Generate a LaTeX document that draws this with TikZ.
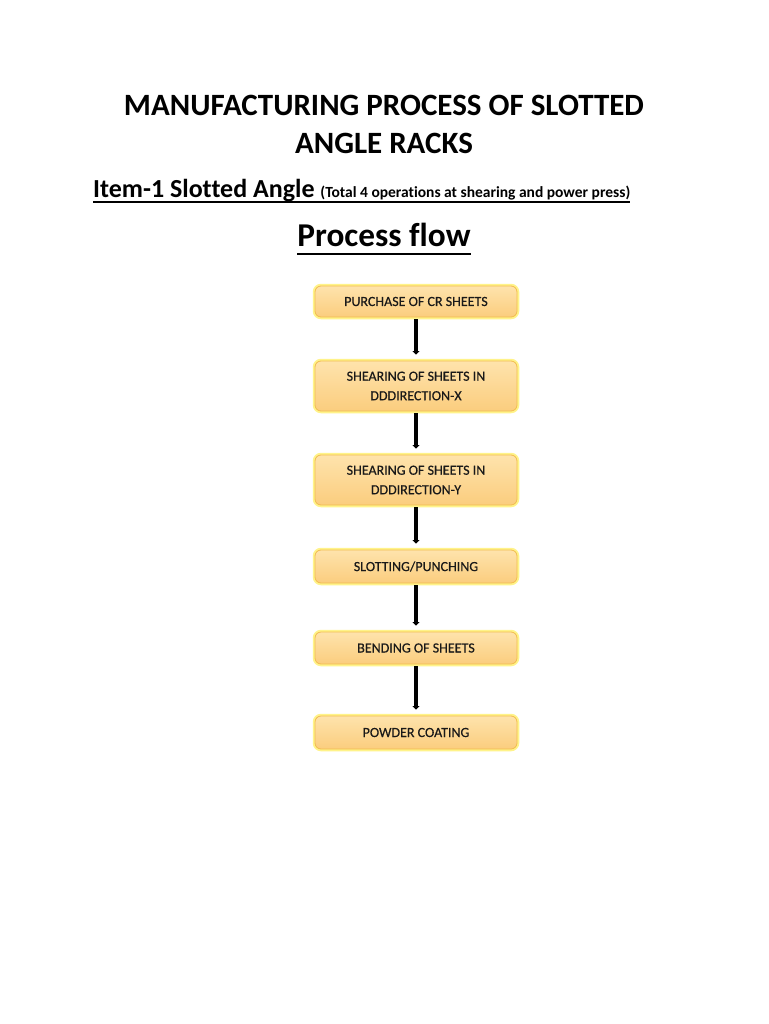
\documentclass[tikz,border=0pt]{standalone}
\usepackage{fontspec}
\setmainfont[Ligatures={NoCommon}]{Carlito}
\newfontfamily\boxfont[FakeBold=0.35]{Carlito}
\usetikzlibrary{arrows.meta}
\definecolor{boxtop}{HTML}{FEE3AC}
\definecolor{boxbot}{HTML}{FBCD7E}
\definecolor{boxline}{HTML}{F2BC4E}
\definecolor{glow}{HTML}{FFF38A}
\tikzset{
  stepbox/.style={rectangle, rounded corners=6pt, minimum width=202pt, top color=boxtop, bottom color=boxbot, draw=boxline, line width=0.8pt, align=center, font=\boxfont\fontsize{14}{19.5}\selectfont, text=black!90, inner sep=0pt,
    preaction={draw=glow, line width=4.5pt, rounded corners=6pt}},
  flowarrow/.style={line width=3.5pt, -{Triangle[length=3.5pt,width=7pt]}, shorten <=2pt, shorten >=6pt},
  ttl/.style={anchor=base, font=\bfseries\fontsize{31}{36}\selectfont, inner sep=0pt},
  uline/.style={line width=2pt},
}
\begin{document}
\begin{tikzpicture}[x=1pt,y=-1pt]
\useasboundingbox[fill=white] (0,0) rectangle (768,1024);
\node[ttl] (t1) at (384,116) {MANUFACTURING PROCESS OF SLOTTED};
\node[ttl] (t2) at (384,154) {ANGLE RACKS};
\node[anchor=base west, inner sep=0pt, font=\bfseries\fontsize{26}{30}\selectfont] (item) at (93,198) {Item-1 Slotted Angle {\fontsize{15.5}{18}\selectfont(Total 4 operations at shearing and power press)}};
\draw[uline] (item.base west) ++(0,4) coordinate (u1) -- (u1 -| item.base east);
\node[anchor=base, inner sep=0pt, font=\bfseries\fontsize{33.3}{38}\selectfont] (pf) at (384,247) {Process flow};
\draw[line width=2.5pt] (pf.base west) ++(0,7) coordinate (u2) -- (u2 -| pf.base east);

\node[stepbox, minimum height=31pt] (b1) at (416,301.5) {PURCHASE OF CR SHEETS};
\node[stepbox, minimum height=50pt] (b2) at (416,386) {SHEARING OF SHEETS IN\\DDDIRECTION-X};
\node[stepbox, minimum height=50pt] (b3) at (416,480) {SHEARING OF SHEETS IN\\DDDIRECTION-Y};
\node[stepbox, minimum height=33pt] (b4) at (416,566.5) {SLOTTING/PUNCHING};
\node[stepbox, minimum height=32pt] (b5) at (416,648) {BENDING OF SHEETS};
\node[stepbox, minimum height=33pt] (b6) at (416,732.5) {POWDER COATING};

\draw[flowarrow] (b1) -- (b2);
\draw[flowarrow] (b2) -- (b3);
\draw[flowarrow] (b3) -- (b4);
\draw[flowarrow] (b4) -- (b5);
\draw[flowarrow] (b5) -- (b6);
\end{tikzpicture}
\end{document}
